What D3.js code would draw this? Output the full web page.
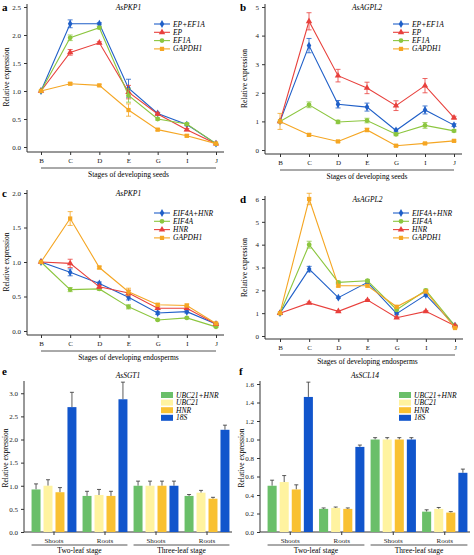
<!DOCTYPE html>
<html><head><meta charset="utf-8">
<script src="https://cdn.jsdelivr.net/npm/d3@7"></script>
<style>body{margin:0;background:#fff}svg{font-family:"Liberation Serif","DejaVu Serif",serif}</style>
</head><body><div id="chart"></div>
<script>
var stages = ['B', 'C', 'D', 'E', 'G', 'I', 'J'];
var lineColors = ['#1f5fc8', '#e8403c', '#8cc63f', '#f5a623'];
var shapes = [d3.symbolDiamond, d3.symbolTriangle, d3.symbolCircle, d3.symbolSquare];

// panel a
var aNames = ['EP+EF1A', 'EP', 'EF1A', 'GAPDH1'];
var aVals = [[1, 2.2, 2.2, 1.05, 0.6, 0.4, 0.06], [1, 1.69, 1.86, 0.98, 0.59, 0.31, 0.06],
             [1, 1.95, 2.13, 0.92, 0.5, 0.41, 0.06], [1, 1.13, 1.1, 0.66, 0.31, 0.2, 0.06]];
var aErr = [[0, 0.07, 0.02, 0.16, 0.02, 0.02, 0], [0, 0.05, 0.02, 0.12, 0.02, 0.02, 0],
            [0, 0.05, 0.02, 0.12, 0.02, 0.02, 0], [0, 0.02, 0.02, 0.11, 0.02, 0.02, 0]];
// panel b
var bNames = ['EP+EF1A', 'EP', 'EF1A', 'GAPDH1'];
var bVals = [[1, 3.65, 1.6, 1.5, 0.68, 1.4, 0.87], [1, 4.5, 2.6, 2.17, 1.55, 2.25, 1.13],
             [1, 1.58, 0.98, 1.03, 0.55, 0.86, 0.67], [1, 0.53, 0.3, 0.7, 0.15, 0.23, 0.32]];
var bErr = [[0, 0.25, 0.13, 0.14, 0.05, 0.14, 0.05], [0, 0.3, 0.22, 0.2, 0.17, 0.25, 0.05],
            [0, 0.1, 0.06, 0.08, 0.05, 0.1, 0.04], [0.28, 0.04, 0.03, 0.06, 0.03, 0.03, 0.03]];
// panel c
var cNames = ['EIF4A+HNR', 'EIF4A', 'HNR', 'GAPDH1'];
var cVals = [[1, 0.85, 0.69, 0.49, 0.26, 0.28, 0.1], [1, 0.6, 0.61, 0.35, 0.16, 0.19, 0.06],
             [1, 0.98, 0.64, 0.55, 0.33, 0.33, 0.1], [1, 1.63, 0.92, 0.57, 0.38, 0.37, 0.11]];
var cErr = [[0, 0.05, 0.02, 0.04, 0.02, 0.02, 0.01], [0, 0.03, 0.02, 0.03, 0.01, 0.01, 0.01],
            [0, 0.06, 0.02, 0.04, 0.02, 0.02, 0.01], [0, 0.1, 0.02, 0.05, 0.02, 0.02, 0.01]];
var cColors = ['#1f5fc8', '#8cc63f', '#e8403c', '#f5a623'];
var cShapes = [d3.symbolDiamond, d3.symbolCircle, d3.symbolTriangle, d3.symbolSquare];
// panel d
var dNames = ['EIF4A+HNR', 'EIF4A', 'HNR', 'GAPDH1'];
var dVals = [[1, 2.93, 1.68, 2.35, 0.98, 1.8, 0.45], [1, 4, 2.35, 2.42, 1.15, 2.0, 0.45],
             [1, 1.45, 1.08, 1.57, 0.8, 1.08, 0.45], [1, 6.0, 2.2, 2.2, 1.28, 1.95, 0.35]];
var dErr = [[0, 0.12, 0.03, 0.05, 0.05, 0.05, 0.02], [0, 0.15, 0.05, 0.05, 0.05, 0.05, 0.02],
            [0, 0.04, 0.03, 0.03, 0.03, 0.03, 0.02], [0, 0.25, 0.05, 0.05, 0.05, 0.05, 0.02]];
// panels e, f
var tissues = ['Shoots', 'Roots', 'Shoots ', 'Roots '];
var stagesLeaf = ['Two-leaf stage', 'Three-leaf stage'];
var barNames = ['UBC21+HNR', 'UBC21', 'HNR', '18S'];
var barColors = ['#6abf69', '#fff3a0', '#f9c132', '#1155cc'];
var eVals = [[0.92, 1.0, 0.86, 2.7], [0.78, 0.8, 0.78, 2.87], [1, 1, 1, 1], [0.78, 0.85, 0.72, 2.21]];
var eErr = [[0.12, 0.13, 0.1, 0.32], [0.1, 0.12, 0.1, 0.37], [0.1, 0.1, 0.1, 0.1], [0.03, 0.05, 0.03, 0.1]];
var fVals = [[0.5, 0.54, 0.46, 1.46], [0.25, 0.26, 0.25, 0.92], [1, 1, 1, 1], [0.22, 0.25, 0.21, 0.64]];
var fErr = [[0.06, 0.07, 0.05, 0.16], [0.01, 0.01, 0.01, 0.02], [0.02, 0.02, 0.02, 0.02], [0.02, 0.015, 0.01, 0.04]];

var svg = d3.select('#chart').append('svg').attr('width', 474).attr('height', 555);

function axisStyle(g) {
  g.selectAll('path,line').attr('stroke', '#333');
  g.selectAll('text').attr('font-size', 7).attr('fill', '#222').attr('font-family', '"Liberation Serif",serif');
}

function linePanel(o) {
  var g = svg.append('g');
  var x = d3.scalePoint().domain(stages).range([o.x0, o.x1]);
  var y = d3.scaleLinear().domain([0, o.ymax]).range([o.yb, o.yt]);
  g.append('g').attr('transform', 'translate(' + o.ax + ',0)')
   .call(d3.axisLeft(y).tickValues(o.ticks).tickFormat(o.fmt).tickSize(3)).call(axisStyle)
   .select('.domain').attr('d', 'M0,' + (o.base) + 'V' + (o.yt - 3));
  g.append('g').attr('transform', 'translate(0,' + o.base + ')')
   .call(d3.axisBottom(x).tickSize(3)).call(axisStyle)
   .select('.domain').attr('d', 'M' + o.ax + ',0H' + (o.x1 + 8));
  g.append('line').attr('x1', o.x0).attr('x2', o.x1).attr('y1', o.base + 16).attr('y2', o.base + 16).attr('stroke', '#555');
  g.append('text').attr('x', (o.x0 + o.x1) / 2).attr('y', o.base + 25).attr('text-anchor', 'middle')
   .attr('font-size', 7.5).text(o.xlabel);
  g.append('text').attr('transform', 'translate(' + (o.ax - 18) + ',' + ((o.yt + o.yb) / 2) + ')rotate(-90)')
   .attr('text-anchor', 'middle').attr('font-size', 7.5).text('Relative expression');
  g.append('text').attr('x', (o.x0 + o.x1) / 2).attr('y', o.yt + 3).attr('text-anchor', 'middle')
   .attr('font-size', 7.5).attr('font-style', 'italic').text(o.title);
  g.append('text').attr('x', o.ax - 25).attr('y', o.yt + 4).attr('font-weight', 'bold').attr('font-size', 11).text(o.letter);
  var line = d3.line().x(function(d, i) { return x(stages[i]); }).y(function(d) { return y(d); });
  o.vals.forEach(function(vals, s) {
    var col = o.colors[s];
    g.append('path').attr('d', line(vals)).attr('fill', 'none').attr('stroke', col).attr('stroke-width', 1.1);
    vals.forEach(function(v, i) {
      var e = o.err[s][i], cx = x(stages[i]);
      if (e > 0) {
        g.append('path').attr('d', 'M' + cx + ',' + y(v - e) + 'V' + y(v + e) + 'M' + (cx - 2.5) + ',' + y(v + e) + 'h5M' + (cx - 2.5) + ',' + y(v - e) + 'h5')
         .attr('stroke', col).attr('stroke-width', 0.8).attr('fill', 'none');
      }
      g.append('path').attr('transform', 'translate(' + cx + ',' + y(v) + ')')
       .attr('d', d3.symbol().type(o.shapes[s]).size(18)).attr('fill', col);
    });
    var ly = o.ly + s * 8.3;
    g.append('line').attr('x1', o.lx).attr('x2', o.lx + 16).attr('y1', ly).attr('y2', ly).attr('stroke', col).attr('stroke-width', 1.1);
    g.append('path').attr('transform', 'translate(' + (o.lx + 8) + ',' + ly + ')').attr('d', d3.symbol().type(o.shapes[s]).size(18)).attr('fill', col);
    g.append('text').attr('x', o.lx + 19).attr('y', ly + 2.5).attr('font-size', 7.5).attr('font-style', 'italic').text(o.names[s]);
  });
}

function barPanel(o) {
  var g = svg.append('g');
  var x = d3.scaleBand().domain(tissues).range([o.ax + 5, o.x1]).paddingInner(0.12).paddingOuter(0.05);
  var xi = d3.scaleBand().domain(barNames).range([0, x.bandwidth()]).paddingInner(0.25);
  var y = d3.scaleLinear().domain([0, o.ymax]).range([o.yb, o.yt]);
  g.append('g').attr('transform', 'translate(' + o.ax + ',0)')
   .call(d3.axisLeft(y).tickValues(o.ticks).tickFormat(d3.format(o.fmt)).tickSize(3)).call(axisStyle)
   .select('.domain').attr('d', 'M0,' + o.yb + 'V' + (o.yt - 3));
  g.append('g').attr('transform', 'translate(0,' + o.yb + ')')
   .call(d3.axisBottom(x).tickSize(3)).call(axisStyle)
   .select('.domain').attr('d', 'M' + o.ax + ',0H' + o.x1);
  stagesLeaf.forEach(function(s, k) {
    var a = x(tissues[2 * k]), b = x(tissues[2 * k + 1]) + x.bandwidth();
    g.append('line').attr('x1', a).attr('x2', b).attr('y1', o.yb + 13).attr('y2', o.yb + 13).attr('stroke', '#555');
    g.append('text').attr('x', (a + b) / 2).attr('y', o.yb + 21).attr('text-anchor', 'middle').attr('font-size', 7.5).text(s);
  });
  g.append('text').attr('transform', 'translate(' + (o.ax - 16) + ',' + ((o.yt + o.yb) / 2) + ')rotate(-90)')
   .attr('text-anchor', 'middle').attr('font-size', 7.5).text('Relative expression');
  g.append('text').attr('x', (o.ax + o.x1) / 2).attr('y', o.yt - 6).attr('text-anchor', 'middle')
   .attr('font-size', 7.5).attr('font-style', 'italic').text(o.title);
  g.append('text').attr('x', o.lettX).attr('y', o.yt - 9).attr('font-weight', 'bold').attr('font-size', 11).text(o.letter);
  o.vals.forEach(function(vals, t) {
    vals.forEach(function(v, k) {
      var bx = x(tissues[t]) + xi(barNames[k]), w = xi.bandwidth(), e = o.err[t][k];
      g.append('path').attr('d', 'M' + (bx + w / 2) + ',' + y(v) + 'V' + y(v + e) + 'M' + (bx + w / 2 - 2) + ',' + y(v + e) + 'h4')
       .attr('stroke', '#333').attr('stroke-width', 0.8);
      g.append('rect').attr('x', bx).attr('y', y(v)).attr('width', w).attr('height', y(0) - y(v)).attr('fill', barColors[k]);
    });
  });
  barNames.forEach(function(n, k) {
    var ly = o.ly + k * 7.6;
    g.append('rect').attr('x', o.lx).attr('y', ly - 3).attr('width', 12).attr('height', 6).attr('fill', barColors[k]);
    g.append('text').attr('x', o.lx + 15).attr('y', ly + 2.5).attr('font-size', 7.5).attr('font-style', 'italic').text(n);
  });
}

linePanel({letter: 'a', title: 'AsPKP1', ax: 27, x0: 41, x1: 216, yt: 7, yb: 147, base: 152, ymax: 2.5,
  ticks: [0, 0.5, 1, 1.5, 2, 2.5], fmt: d3.format('.1f'), xlabel: 'Stages of developing seeds',
  vals: aVals, err: aErr, names: aNames, colors: lineColors, shapes: shapes, lx: 154, ly: 24});
linePanel({letter: 'b', title: 'AsAGPL2', ax: 265, x0: 280, x1: 454, yt: 7, yb: 150, base: 154, ymax: 5,
  ticks: [0, 1, 2, 3, 4, 5], fmt: d3.format('d'), xlabel: 'Stages of developing seeds',
  vals: bVals, err: bErr, names: bNames, colors: lineColors, shapes: shapes, lx: 393, ly: 24});
linePanel({letter: 'c', title: 'AsPKP1', ax: 27, x0: 41, x1: 216, yt: 193, yb: 331, base: 335, ymax: 2,
  ticks: [0, 0.5, 1, 1.5, 2], fmt: d3.format('.1f'), xlabel: 'Stages of developing endosperms',
  vals: cVals, err: cErr, names: cNames, colors: cColors, shapes: cShapes, lx: 154, ly: 213});
linePanel({letter: 'd', title: 'AsAGPL2', ax: 265, x0: 280, x1: 455, yt: 199, yb: 336, base: 339, ymax: 6,
  ticks: [0, 1, 2, 3, 4, 5, 6], fmt: d3.format('d'), xlabel: 'Stages of developing endosperms',
  vals: dVals, err: dErr, names: dNames, colors: cColors, shapes: cShapes, lx: 393, ly: 213});
barPanel({letter: 'e', lettX: 2, title: 'AsSGT1', ax: 24, x1: 232, yt: 384, yb: 532, ymax: 3.2,
  ticks: [0, 0.5, 1, 1.5, 2, 2.5, 3], fmt: '.1f', vals: eVals, err: eErr, lx: 161, ly: 395});
barPanel({letter: 'f', lettX: 239, title: 'AsSCL14', ax: 260, x1: 470, yt: 384, yb: 532, ymax: 1.6,
  ticks: [0, 0.2, 0.4, 0.6, 0.8, 1, 1.2, 1.4, 1.6], fmt: '.1f', vals: fVals, err: fErr, lx: 399, ly: 395});
</script></body></html>
